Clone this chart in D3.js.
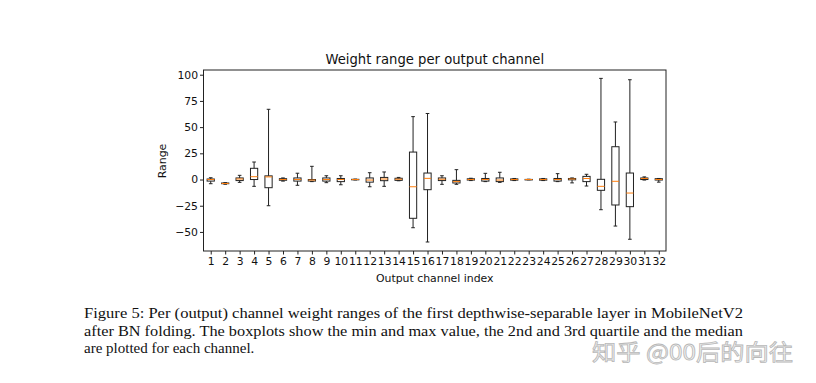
<!DOCTYPE html>
<html><head><meta charset="utf-8">
<script src="https://cdn.jsdelivr.net/npm/d3@7"></script>
<style>body{margin:0;background:#fff}svg{display:block}</style>
</head><body>
<svg id="c" width="816" height="383"></svg>
<script>
const channels = d3.range(1, 33);
const mins    = [-4,-4.5,-2.7,-6.5,-25,-1.5,-5.5,-2,-3,-5,-0.4,-6.9,-6.5,-1.2,-46,-59.6,-4.6,-4.6,-1,-2,-2.7,-1,-0.3,-1,-2,-3.2,-6.2,-28.8,-44.4,-57,-0.5,-2.5];
const q1s     = [-1.5,-4,-1,0,-7.8,-0.7,-1.5,-1.5,-1.5,-2,-0.2,-2.5,-1.1,-0.8,-37,-9.7,-1,-3.3,-0.5,-1.5,-2,-0.6,-0.1,-0.6,-1.5,-0.3,-2,-10.3,-24.3,-25.9,0,-0.5];
const medians = [0,-3.8,0.5,2.7,2.5,0,0,-0.5,0,0,0,-0.5,0.5,0.3,-6.9,1.1,0.3,-2,0,0,-0.5,0,0,0,0,0.5,1,-6.5,-1.7,-12.9,1,0];
const q3s     = [0.5,-3.3,1.5,10.7,3.5,0.8,1.5,0,1.5,1,0.2,1.5,2,1.2,26.2,6.2,1.5,-0.8,0.7,1,1.5,0.6,0.1,0.6,1,1,3,0.2,31.3,6.2,1.5,0.8];
const maxs    = [1.7,-3,4,16.7,67,1.5,6,12.6,3.6,3.6,0.4,6.5,7.2,2,60,63,3.6,9.4,1.2,5.9,6.9,1,0.3,1,5.6,1.5,5,96.5,54.9,95.2,2.5,1];
const yTicks  = [-50,-25,0,25,50,75,100];
const titleText = "Weight range per output channel";
const xLabel = "Output channel index";
const yLabel = "Range";
const captionLines = [
  "Figure 5: Per (output) channel weight ranges of the first depthwise-separable layer in MobileNetV2",
  "after BN folding. The boxplots show the min and max value, the 2nd and 3rd quartile and the median",
  "are plotted for each channel."
];
const watermark = "知乎 @00后的向往";

const svg = d3.select("#c");
const L = 203.5, R = 666, T = 70, B = 251;
const x = d3.scaleLinear().domain([0.5, 32.5]).range([L, R]);
const y = d3.scaleLinear().domain([-68.2, 104.5]).range([B, T]);
const font = "DejaVu Sans, sans-serif";

svg.append("text").attr("x", (L+R)/2).attr("y", 64).attr("text-anchor","middle")
  .attr("font-family", font).attr("font-size", 13.2).attr("fill","#111").text(titleText);

const data = channels.map((c,i)=>({c, min:mins[i], q1:q1s[i], med:medians[i], q3:q3s[i], max:maxs[i]}));
const bw = (x(1)-x(0))*0.5, cw = bw*0.5;
const g = svg.append("g");
data.forEach(d=>{
  const cx = x(d.c);
  const gg = g.append("g").attr("stroke","#222").attr("stroke-width",1).attr("fill","none");
  gg.append("line").attr("x1",cx).attr("x2",cx).attr("y1",y(d.q3)).attr("y2",y(d.max));
  gg.append("line").attr("x1",cx).attr("x2",cx).attr("y1",y(d.q1)).attr("y2",y(d.min));
  gg.append("line").attr("x1",cx-cw/2).attr("x2",cx+cw/2).attr("y1",y(d.max)).attr("y2",y(d.max));
  gg.append("line").attr("x1",cx-cw/2).attr("x2",cx+cw/2).attr("y1",y(d.min)).attr("y2",y(d.min));
  gg.append("rect").attr("x",cx-bw/2).attr("width",bw).attr("y",y(d.q3)).attr("height",Math.max(0.5,y(d.q1)-y(d.q3)));
  g.append("line").attr("x1",cx-bw/2).attr("x2",cx+bw/2).attr("y1",y(d.med)).attr("y2",y(d.med))
    .attr("stroke","#ff7f0e").attr("stroke-width",1);
});

const yAxis = svg.append("g").attr("transform",`translate(${L},0)`)
  .call(d3.axisLeft(y).tickValues(yTicks).tickSize(3.5).tickPadding(2).tickFormat(d=>d<0?"\u2212"+Math.abs(d):d));
const xAxis = svg.append("g").attr("transform",`translate(0,${B})`)
  .call(d3.axisBottom(x).tickValues(channels).tickSize(3.5).tickPadding(2.5).tickFormat(d3.format("d")));
[xAxis,yAxis].forEach(a=>{
  a.select(".domain").remove();
  a.selectAll("text").attr("font-family",font).attr("font-size",10.8).attr("fill","#111");
  a.selectAll("line").attr("stroke","#222");
});
svg.append("rect").attr("x",L).attr("y",T).attr("width",R-L).attr("height",B-T)
  .attr("fill","none").attr("stroke","#222").attr("stroke-width",1);

svg.append("text").attr("x",(L+R)/2).attr("y",282).attr("text-anchor","middle")
  .attr("font-family",font).attr("font-size",10.9).attr("fill","#111").text(xLabel);
svg.append("text").attr("transform","translate(166,161) rotate(-90)").attr("text-anchor","middle")
  .attr("font-family",font).attr("font-size",10.9).attr("fill","#111").text(yLabel);

const capY = [318, 335.5, 353];
const capW = [659, 659, null];
captionLines.forEach((t,i)=>{
  const tx = svg.append("text").attr("x",84).attr("y",capY[i])
    .attr("font-family","Liberation Serif, Times New Roman, serif").attr("font-size",15).attr("fill","#111").text(t);
  if (capW[i]) tx.attr("textLength",capW[i]).attr("lengthAdjust","spacingAndGlyphs");
});
svg.append("text").attr("x",592).attr("y",360).attr("font-family","Noto Sans CJK SC, sans-serif")
  .attr("font-size",22).attr("fill","#f4f4f4").attr("stroke","#b8b8b8").attr("stroke-width",0.8)
  .attr("textLength",201).attr("lengthAdjust","spacingAndGlyphs").text(watermark);
</script>
</body></html>
